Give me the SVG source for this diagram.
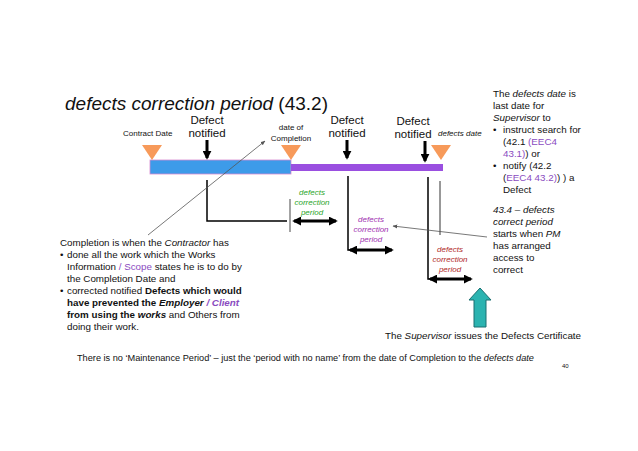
<svg xmlns="http://www.w3.org/2000/svg" width="638" height="451" viewBox="0 0 638 451">
<style>
text{font-family:"Liberation Sans",Arial,sans-serif;fill:#111}
.s{font-size:9.8px}.sm{font-size:8px}.dn{font-size:11.5px;text-anchor:middle}
.dc{font-size:8px;font-style:italic;text-anchor:middle}
.p{fill:#8a4bbf}.i{font-style:italic}.b{font-weight:bold}
.k{stroke:#000;stroke-width:1.5;fill:none}
.da{stroke:#000;stroke-width:3;marker-start:url(#ah);marker-end:url(#ah)}
.na{stroke:#000;stroke-width:3;marker-end:url(#ah)}
.tri{fill:#f79a5a}
</style>
<defs>
<marker id="ah" viewBox="0 0 10 10" refX="8" refY="5" markerWidth="3" markerHeight="3" orient="auto-start-reverse"><path d="M0,0L10,5L0,10z" fill="#000"/></marker>
<marker id="ga" viewBox="0 0 10 10" refX="9" refY="5" markerWidth="6" markerHeight="6" orient="auto"><path d="M0,1L10,5L0,9z" fill="#555"/></marker>
</defs>
<rect width="638" height="451" fill="#fff"/>
<text x="65" y="110" font-size="19" class="i">defects correction period <tspan font-style="normal">(43.2)</tspan></text>
<g id="timeline">
<rect x="150" y="160" width="141" height="14" fill="#3d9be9" stroke="#d88ad0" stroke-width="0.8"/>
<rect x="291" y="164" width="152" height="7" fill="#9a4fe0"/>
</g>
<g id="contract-date"><text x="123" y="136" class="sm">Contract Date</text><path class="tri" d="M142,145H162L152,160z"/></g>
<g id="completion"><text x="291" y="130" class="sm" text-anchor="middle">date of</text><text x="291" y="141" class="sm" text-anchor="middle">Completion</text><path class="tri" d="M281,145H301L291,160z"/></g>
<g id="defects-date"><text x="438" y="136" class="sm i">defects date</text><path class="tri" d="M431,145H451L441,160z"/></g>
<g id="defect1"><text x="207" y="124" class="dn">Defect</text><text x="207" y="137" class="dn">notified</text></g>
<g id="defect2"><text x="347" y="124" class="dn">Defect</text><text x="347" y="137" class="dn">notified</text></g>
<g id="defect3"><text x="413" y="125" class="dn">Defect</text><text x="413" y="138" class="dn">notified</text></g>
<g id="dcp1" class="dc"><text x="312" y="195" style="fill:#2aa52a">defects</text><text x="312" y="205" style="fill:#2aa52a">correction</text><text x="312" y="215" style="fill:#2aa52a">period</text></g>
<g id="dcp2" class="dc"><text x="371" y="222" style="fill:#a030b0">defects</text><text x="371" y="232" style="fill:#a030b0">correction</text><text x="371" y="242" style="fill:#a030b0">period</text></g>
<g id="dcp3" class="dc"><text x="450" y="252" style="fill:#b02828">defects</text><text x="450" y="262" style="fill:#b02828">correction</text><text x="450" y="272" style="fill:#b02828">period</text></g>
<g id="connectors">
<line class="na" x1="207" y1="140" x2="207" y2="158"/>
<line class="na" x1="347" y1="140" x2="347" y2="158"/>
<line class="na" x1="425" y1="141" x2="425" y2="161"/>
<path class="k" d="M207,180V221H287"/>
<line x1="290" y1="199" x2="290" y2="232" stroke="#666" stroke-width="1.2"/>
<line class="da" x1="294" y1="221" x2="336" y2="221"/>
<path class="k" d="M348,176V250H350"/>
<line class="da" x1="350" y1="250" x2="392" y2="250"/>
<path class="k" d="M428,177V279H430"/>
<line class="da" x1="430" y1="279" x2="471" y2="279"/>
<line x1="440" y1="181" x2="440" y2="235" stroke="#333" stroke-width="1"/>
<line x1="487" y1="237" x2="393" y2="226" stroke="#555" stroke-width="0.8" marker-end="url(#ga)"/>
<line x1="148" y1="235" x2="265" y2="141" stroke="#555" stroke-width="0.8" marker-end="url(#ga)"/>
</g>
<g id="certificate-arrow"><path d="M474,327V300H469L480,288L491,300H486V327z" fill="#2bb3b0" stroke="#1a6f70" stroke-width="1"/></g>
<g id="right-note" class="s">
<text x="493" y="97">The <tspan class="i">defects date</tspan> is</text>
<text x="493" y="109">last date for</text>
<text x="493" y="121" class="i">Supervisor <tspan font-style="normal">to</tspan></text>
<text x="493" y="133">•</text><text x="503" y="133">instruct search for</text>
<text x="503" y="145">(42.1 <tspan class="p">(EEC4</tspan></text>
<text x="503" y="157"><tspan class="p">43.1)</tspan>) or</text>
<text x="493" y="169">•</text><text x="503" y="169">notify (42.2</text>
<text x="503" y="181">(<tspan class="p">EEC4 43.2)</tspan>) ) a</text>
<text x="503" y="193">Defect</text>
</g>
<g id="note-434" class="s">
<text x="493" y="213"><tspan class="i">43.4 – defects</tspan></text>
<text x="493" y="225" class="i">correct period</text>
<text x="493" y="237">starts when <tspan class="i">PM</tspan></text>
<text x="493" y="249">has arranged</text>
<text x="493" y="261">access to</text>
<text x="493" y="273">correct</text>
</g>
<g id="completion-note" class="s">
<text x="60" y="246">Completion is when the <tspan class="i">Contractor</tspan> has</text>
<text x="60" y="258">•</text><text x="67" y="258">done all the work which the Works</text>
<text x="67" y="270">Information <tspan class="p">/ Scope</tspan>  states he is to do by</text>
<text x="67" y="282">the Completion Date and</text>
<text x="60" y="294">•</text><text x="67" y="294">corrected notified <tspan class="b">Defects which would</tspan></text>
<text x="67" y="306" class="b">have prevented the <tspan class="i">Employer</tspan> <tspan class="i p">/ Client</tspan></text>
<text x="67" y="318"><tspan class="b">from using the <tspan class="i">works</tspan></tspan> and Others from</text>
<text x="67" y="330">doing their work.</text>
</g>
<text x="385" y="339" class="s">The <tspan class="i">Supervisor</tspan> issues the Defects Certificate</text>
<text x="77" y="361" font-size="9.2">There is no ‘Maintenance Period’ – just the ‘period with no name’ from the date of Completion to the <tspan class="i">defects date</tspan></text>
<text x="562" y="368" font-size="6">40</text>
</svg>
